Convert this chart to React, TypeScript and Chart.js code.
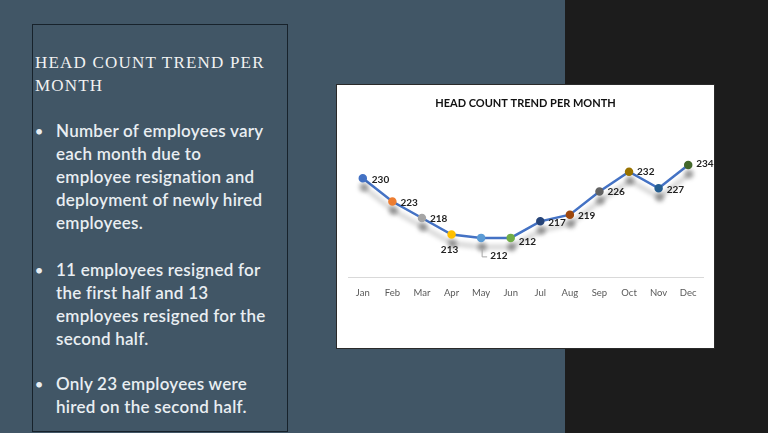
import React, { useEffect, useRef } from "react";
import { Chart, registerables } from "chart.js";

Chart.register(...registerables);

const months = ["Jan", "Feb", "Mar", "Apr", "May", "Jun", "Jul", "Aug", "Sep", "Oct", "Nov", "Dec"];
const headCount = [230, 223, 218, 213, 212, 212, 217, 219, 226, 232, 227, 234];
const pointColors = ["#4472c4", "#ed7d31", "#a5a5a5", "#ffc000", "#5b9bd5", "#70ad47", "#264478", "#9e480e", "#636363", "#997300", "#255e91", "#43682b"];
const labelOffsets: [number, number, string][] = [
  [9, 1, "left"], [8, 1, "left"], [8, 1, "left"], [-2, 15, "center"], [9, 18, "left"], [8, 4, "left"],
  [8, 1, "left"], [8, 1, "left"], [8, 0, "left"], [8, 0, "left"], [8, 2, "left"], [8, -1, "left"],
];
const chartTitle = "HEAD COUNT TREND PER MONTH";
const yMin = 200;
const yMax = 240;

const shadowPlugin = {
  id: "lineShadow",
  beforeDatasetDraw(chart: any) {
    const ctx = chart.ctx;
    ctx.save();
    ctx.shadowColor = "rgba(0,0,0,0.32)";
    ctx.shadowBlur = 5;
    ctx.shadowOffsetX = 1;
    ctx.shadowOffsetY = 9;
  },
  afterDatasetDraw(chart: any) {
    chart.ctx.restore();
  },
};

const labelPlugin = {
  id: "valueLabels",
  afterDatasetsDraw(chart: any) {
    const ctx = chart.ctx;
    const meta = chart.getDatasetMeta(0);
    ctx.save();
    ctx.font = "bold 10px Lato, 'Open Sans', sans-serif";
    ctx.fillStyle = "#222";
    ctx.textBaseline = "middle";
    meta.data.forEach((pt: any, i: number) => {
      const [dx, dy, align] = labelOffsets[i];
      ctx.textAlign = align;
      const v = chart.data.datasets[0].data[i];
      ctx.fillText(String(v), pt.x + dx, pt.y + dy);
      if (i === 4) {
        ctx.strokeStyle = "#a6a6a6";
        ctx.lineWidth = 1;
        ctx.beginPath();
        ctx.moveTo(pt.x + 1, pt.y + 10);
        ctx.lineTo(pt.x + 1, pt.y + 19);
        ctx.lineTo(pt.x + 6, pt.y + 19);
        ctx.stroke();
      }
    });
    ctx.restore();
  },
};

function HeadCountChart() {
  const ref = useRef<HTMLCanvasElement | null>(null);
  useEffect(() => {
    if (!ref.current) return;
    const chart = new Chart(ref.current, {
      type: "line",
      data: {
        labels: months,
        datasets: [
          {
            data: headCount,
            borderColor: "#4472c4",
            borderWidth: 2.5,
            pointBackgroundColor: pointColors,
            pointBorderColor: pointColors,
            pointRadius: 3,
            tension: 0,
          },
        ],
      },
      options: {
        animation: false,
        responsive: false,
        layout: { padding: { left: 11, right: 11, top: 0, bottom: 39 } },
        plugins: {
          legend: { display: false },
          tooltip: { enabled: false },
          title: {
            display: true,
            text: chartTitle,
            color: "#111",
            font: { family: "Lato, 'Open Sans', sans-serif", size: 11, weight: "bold" },
            padding: { top: 12, bottom: 35 },
          },
        },
        scales: {
          x: {
            offset: true,
            grid: { display: false, drawTicks: false },
            border: { display: true, color: "#d9d9d9", width: 1 },
            ticks: { color: "#595959", font: { family: "Lato, 'Open Sans', sans-serif", size: 9.5 }, padding: 10 },
          },
          y: { display: false, min: yMin, max: yMax },
        },
      },
      plugins: [shadowPlugin, labelPlugin],
    });
    return () => chart.destroy();
  }, []);
  return <canvas ref={ref} width={377} height={263} style={{ display: "block" }} />;
}

export default function App() {
  const bodyFont = "Lato, 'Open Sans', sans-serif";
  const lineStyle: React.CSSProperties = { height: 23, lineHeight: "23px", whiteSpace: "nowrap" };
  const bullets = [
    ["Number of employees vary", "each month due to", "employee resignation and", "deployment of newly hired", "employees."],
    ["11 employees resigned for", "the first half and 13", "employees resigned for the", "second half."],
    ["Only 23 employees were", "hired on the second half."],
  ];
  const bulletTops = [119, 258, 372];
  return (
    <div style={{ position: "fixed", left: 0, top: 0, width: 768, height: 433, background: "#415666", overflow: "hidden" }}>
      <div style={{ position: "absolute", left: 565, top: 0, width: 203, height: 433, background: "#1c1c1c" }} />
      <div style={{ position: "absolute", left: 32, top: 24, width: 254, height: 406, border: "1px solid #17222b" }} />
      <div style={{ position: "absolute", left: 35, top: 51, color: "#f2f2f2", fontFamily: "'Liberation Serif', serif", fontSize: 17, lineHeight: "23px", letterSpacing: "1.2px", whiteSpace: "nowrap" }}>
        HEAD COUNT TREND PER
        <br />
        MONTH
      </div>
      {bullets.map((lines, b) => (
        <div key={b} style={{ position: "absolute", left: 0, top: bulletTops[b], color: "#e9eef2", fontFamily: bodyFont, fontSize: 17, fontWeight: 600, letterSpacing: "0.25px" }}>
          <div style={{ position: "absolute", left: 35, top: 0, fontSize: 14, ...lineStyle }}>•</div>
          {lines.map((t, i) => (
            <div key={i} style={{ position: "absolute", left: 56, top: i * 23, ...lineStyle }}>{t}</div>
          ))}
        </div>
      ))}
      <div style={{ position: "absolute", left: 336, top: 84, width: 377, height: 263, background: "#ffffff", border: "1px solid #2a2a2a" }}>
        <HeadCountChart />
      </div>
    </div>
  );
}
